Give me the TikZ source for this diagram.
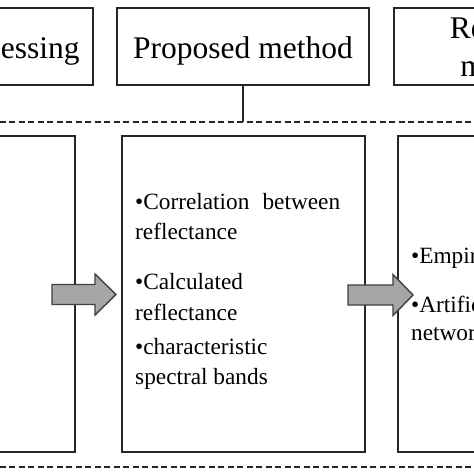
\documentclass[tikz,border=0pt]{standalone}
\usepackage{fontspec}
\setmainfont{Liberation Serif}
\definecolor{linecol}{HTML}{262626}
\definecolor{arrowfill}{HTML}{A6A6A6}
\definecolor{arrowline}{HTML}{404040}
\tikzset{
  box/.style={draw=linecol, line width=1.5pt, inner sep=0pt, rectangle},
  headtext/.style={font=\fontsize{31.5}{37}\selectfont, inner sep=0pt, anchor=base, text=black},
  bodytext/.style={font=\fontsize{23.3}{30}\selectfont, inner sep=0pt, anchor=base west, text=black},
  conn/.style={draw=linecol, line width=1.5pt},
  dashline/.style={draw=linecol, line width=1.5pt, dash pattern=on 6pt off 3.5pt},
  blockarrow/.style={draw=arrowline, fill=arrowfill, line width=1.4pt, line join=miter}
}
\begin{document}
\begin{tikzpicture}[x=1pt, y=-1pt]
\useasboundingbox (0,0) rectangle (474,474);
\clip (0,0) rectangle (474,474);
\fill[white] (0,0) rectangle (474,474);
% top boxes
\node[box, minimum width=214pt, minimum height=77pt] (pre) at (-14,46.5) {};
\node[box, minimum width=252pt, minimum height=77pt] (prop) at (243,46.5) {};
\node[box, minimum width=226pt, minimum height=77pt] (ret) at (507,46.5) {};
\node[headtext] (pretext) at (-14,58) {Pre-processing};
\node[headtext] (proptext) at (243,58) {Proposed method};
\node[headtext] (rettext1) at (507.5,38) {Retrieval};
\node[headtext] (rettext2) at (507.5,76) {method};
% dashed lines
\coordinate (dl) at (-10,122);
\coordinate (dr) at (484,122);
\coordinate (bl) at (-10,467);
\coordinate (br) at (484,467);
\draw[dashline] (dl) -- (dr);
\draw[dashline] (bl) -- (br);
\draw[conn] (prop.south) -- (prop.south |- dl);
% bottom boxes
\node[box, minimum width=110pt, minimum height=316pt] (lbox) at (20,294) {};
\node[box, minimum width=243pt, minimum height=316pt] (mbox) at (243.5,294) {};
\node[box, minimum width=240pt, minimum height=316pt] (rbox) at (518,294) {};
% middle box text
\node[bodytext] (m1) at (135,209) {\makebox[205pt][s]{•Correlation between}};
\node[bodytext] (m2) at (135,239) {reflectance};
\node[bodytext] (m3) at (135,289) {•Calculated};
\node[bodytext] (m4) at (135,320) {reflectance};
\node[bodytext] (m5) at (135,354) {•characteristic};
\node[bodytext] (m6) at (135,384) {spectral bands};
% right box text
\node[bodytext] (r1) at (411,263) {•Empirical model};
\node[bodytext] (r2) at (411,312) {•Artificial neural};
\node[bodytext] (r3) at (411,340) {network};
% block arrows
\draw[blockarrow, shift={(52,294.5)}] (0,-10) -- (43,-10) -- (43,-20.5) -- (64,0) -- (43,20.5) -- (43,10) -- (0,10) -- cycle;
\draw[blockarrow, shift={(348,295)}] (0,-10) -- (45,-10) -- (45,-20.5) -- (65,0) -- (45,20.5) -- (45,10) -- (0,10) -- cycle;
\end{tikzpicture}
\end{document}
